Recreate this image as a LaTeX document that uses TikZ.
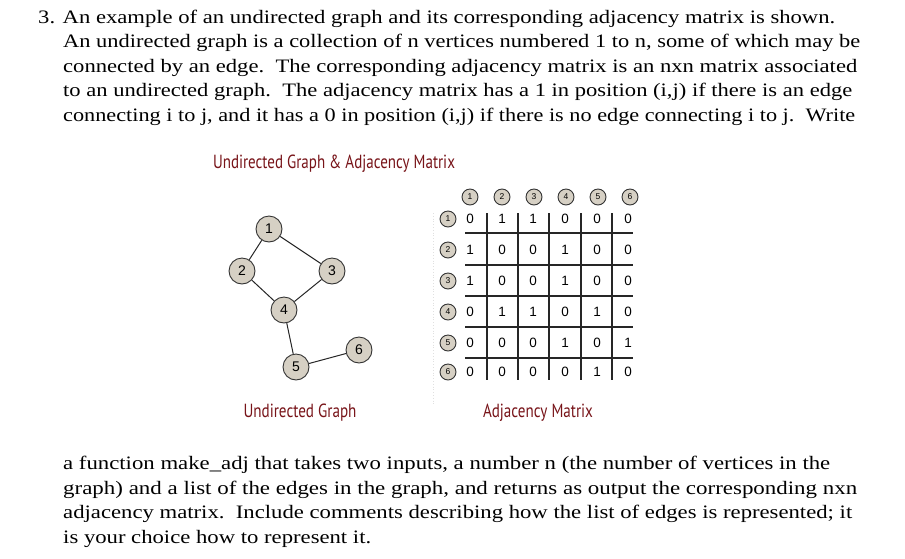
\documentclass[tikz,border=0pt]{standalone}
\usepackage{fontspec}
\usepackage{graphicx}
\setmainfont{Liberation Serif}
\newfontfamily\numf{Liberation Sans}
\newfontfamily\condf{PT Sans}
\definecolor{nodefill}{RGB}{214,208,196}
\definecolor{titlered}{RGB}{120,20,25}
\newcommand\fitline[2]{\resizebox{#1pt}{\height}{#2}}
\begin{document}
\begin{tikzpicture}[x=1pt,y=-1pt,
  body/.style={anchor=base west,inner sep=0pt,font=\fontsize{19}{22}\selectfont},
  gnode/.style={circle,draw=black!80,fill=nodefill,line width=0.9pt,minimum size=26pt,inner sep=0pt,font=\numf\fontsize{14}{15}\selectfont},
  hnode/.style={circle,draw=black!80,fill=nodefill,line width=0.9pt,minimum size=16pt,inner sep=0pt,font=\numf\fontsize{8.5}{9}\selectfont},
  cell/.style={inner sep=0pt,font=\numf\fontsize{13.5}{14}\selectfont},
  edge/.style={line width=1pt,black!85},
  grid/.style={line width=1.2pt,black!85},
  ttl/.style={text=titlered,inner sep=0pt,font=\condf\fontsize{19}{21}\selectfont}]
\useasboundingbox (0,0) rectangle (905,558);
\fill[white] (0,0) rectangle (905,558);
% body text
\node[body] (l1) at (38,23) {\fitline{797}{3. An example of an undirected graph and its corresponding adjacency matrix is shown.}};
\node[body] (l2) at (63,47) {\fitline{797}{An undirected graph is a collection of n vertices numbered 1 to n, some of which may be}};
\node[body] (l3) at (63,72) {\fitline{794}{connected by an edge.\ \ The corresponding adjacency matrix is an nxn matrix associated}};
\node[body] (l4) at (63,96) {\fitline{789}{to an undirected graph.\ \ The adjacency matrix has a 1 in position (i,j) if there is an edge}};
\node[body] (l5) at (63,121) {\fitline{792}{connecting i to j, and it has a 0 in position (i,j) if there is no edge connecting i to j.\ \ Write}};
\node[body] (b1) at (63,469) {\fitline{767}{a function make\_adj that takes two inputs, a number n (the number of vertices in the}};
\node[body] (b2) at (63,494) {\fitline{794}{graph) and a list of the edges in the graph, and returns as output the corresponding nxn}};
\node[body] (b3) at (63,518) {\fitline{789}{adjacency matrix.\ \ Include comments describing how the list of edges is represented; it}};
\node[body] (b4) at (63,543) {\fitline{308}{is your choice how to represent it.}};
% titles
\node[ttl] (t) at (334,164) {\resizebox{242pt}{\height}{Undirected Graph \& Adjacency Matrix}};
\node[ttl] (tg) at (300,413) {\resizebox{113pt}{\height}{Undirected Graph}};
\node[ttl] (tm) at (538,413) {\resizebox{110pt}{\height}{Adjacency Matrix}};
% separator
\draw[black!12,dotted,line width=0.8pt] (433,213) -- (433,405);
% graph
\node[gnode] (n1) at (269,229) {1};
\node[gnode] (n2) at (242,271) {2};
\node[gnode] (n3) at (332,271) {3};
\node[gnode] (n4) at (284,310) {4};
\node[gnode] (n5) at (296,367) {5};
\node[gnode] (n6) at (359,350) {6};
\draw[edge] (n1)--(n2) (n1)--(n3) (n2)--(n4) (n3)--(n4) (n4)--(n5) (n5)--(n6);
% matrix headers
\foreach \i/\x in {1/470,2/502,3/534,4/566,5/598,6/630} {\node[hnode] (c\i) at (\x,197) {\i};}
\foreach \i/\y in {1/219,2/250,3/281,4/312,5/343,6/372} {\node[hnode] (r\i) at (448,\y) {\i};}
% grid lines
\foreach \x in {487,518,549,581,612} {\draw[grid] (\x,213) -- (\x,380);}
\foreach \y in {233,265,296,327,358} {\draw[grid] (465,\y) -- (633,\y);}
% values
\foreach \row [count=\r] in {{0,1,1,0,0,0},{1,0,0,1,0,0},{1,0,0,1,0,0},{0,1,1,0,1,0},{0,0,0,1,0,1},{0,0,0,0,1,0}} {
  \foreach \v [count=\c] in \row {
    \pgfmathsetmacro\xx{{470,502,533,565,597,628}[\c-1]}
    \pgfmathsetmacro\yy{{219,250,281,312,343,372}[\r-1]}
    \node[cell] (v\r\c) at (\xx,\yy) {\v};
  }
}
\end{tikzpicture}
\end{document}
